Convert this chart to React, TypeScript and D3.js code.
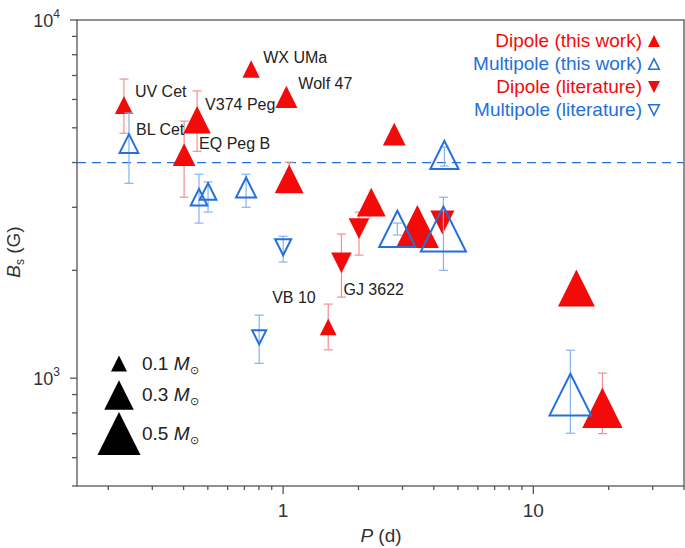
// B_s versus rotation period, log-log scatter
import React from 'react';
import * as d3 from 'd3';

interface Star {
  p: number;      // rotation period (d)
  b: number;      // field strength (G)
  m: number;      // mass (solar masses)
  lo?: number;    // lower end of the error bar
  hi?: number;    // upper end of the error bar
  name?: string;
}

// red filled, pointing up
const dipoleThisWork: Star[] = [
  { p: 0.231, b: 5790, m: 0.13, lo: 4830, hi: 6840, name: 'UV Cet' },
  { p: 0.453, b: 5270, m: 0.27, lo: 4300, hi: 6340, name: 'V374 Peg' },
  { p: 0.402, b: 4210, m: 0.2, lo: 3200, hi: 5220, name: 'EQ Peg B' },
  { p: 0.745, b: 7300, m: 0.12, name: 'WX UMa' },
  { p: 1.03, b: 6100, m: 0.19, name: 'Wolf 47' },
  { p: 1.057, b: 3600, m: 0.29, lo: 3300, hi: 4010 },
  { p: 2.78, b: 4800, m: 0.2 },
  { p: 2.25, b: 3100, m: 0.29 },
  { p: 3.44, b: 2650, m: 0.5 },
  { p: 1.514, b: 1390, m: 0.11, lo: 1200, hi: 1610 },
  { p: 14.86, b: 1785, m: 0.41 },
  { p: 18.88, b: 827, m: 0.46, lo: 700, hi: 1033 },
];

// blue open, pointing up
const multipoleThisWork: Star[] = [
  { p: 0.242, b: 4520, m: 0.17, lo: 3500, hi: 5500, name: 'BL Cet' },
  { p: 0.461, b: 3200, m: 0.14, lo: 2710, hi: 3710 },
  { p: 0.501, b: 3320, m: 0.14, lo: 2910, hi: 3530 },
  { p: 0.711, b: 3405, m: 0.19, lo: 3000, hi: 3710 },
  { p: 4.41, b: 4200, m: 0.31, lo: 3910, hi: 4420 },
  { p: 2.86, b: 2610, m: 0.43, lo: 2510, hi: 2710 },
  { p: 4.37, b: 2610, m: 0.56, lo: 2000, hi: 3200 },
  { p: 14.06, b: 900, m: 0.51, lo: 702, hi: 1197 },
];

// red filled, pointing down
const dipoleLiterature: Star[] = [
  { p: 2.01, b: 2616, m: 0.17, lo: 2206, hi: 2909 },
  { p: 1.71, b: 2100, m: 0.17, lo: 1684, hi: 2525, name: 'GJ 3622' },
  { p: 4.33, b: 2720, m: 0.22 },
];

// blue open, pointing down
const multipoleLiterature: Star[] = [
  { p: 1.0, b: 2320, m: 0.13, lo: 2110, hi: 2490 },
  { p: 0.802, b: 1300, m: 0.1, lo: 1100, hi: 1500, name: 'VB 10' },
];

const legendLabels = ['Dipole (this work)', 'Multipole (this work)', 'Dipole (literature)', 'Multipole (literature)'];
const massLegend = [0.1, 0.3, 0.5];
const xTickLabels = [1, 10];
const yTickExponents = [3, 4];
const threshold = 4000;

// label offsets from the star's marker, in px
const labelOffsets: Record<string, [number, number]> = {
  'UV Cet': [11, -8],
  'BL Cet': [7, -9],
  'V374 Peg': [8, -10],
  'EQ Peg B': [15, -6],
  'WX UMa': [12, -6],
  'Wolf 47': [12, -8],
  'GJ 3622': [2, 32],
  'VB 10': [13, -34],
};

const width = 685;
const height = 548;
const plotLeft = 77;
const plotRight = 684;
const plotTop = 20;
const plotBottom = 486;

const RED = '#f50a0a';
const RED_ERR = '#f29090';
const BLUE = '#2370dc';
const BLUE_ERR = '#86b2ee';
const AXIS = '#555';
const FONT = '"Liberation Sans", Arial, sans-serif';

const x = d3.scaleLog().domain([0.15, 40]).range([plotLeft, plotRight]);
const y = d3.scaleLog().domain([500, 10000]).range([plotBottom, plotTop]);
const size = d3.scaleLinear().domain([0.1, 0.5]).range([16, 43]);

function triangle(cx: number, cy: number, w: number, up: boolean) {
  const h = w;
  const p = d3.path();
  if (up) {
    p.moveTo(cx, cy - h / 2);
    p.lineTo(cx + w / 2, cy + h / 2);
    p.lineTo(cx - w / 2, cy + h / 2);
  } else {
    p.moveTo(cx, cy + h / 2);
    p.lineTo(cx + w / 2, cy - h / 2);
    p.lineTo(cx - w / 2, cy - h / 2);
  }
  p.closePath();
  return p.toString();
}

const ErrorBars = ({ data, color }: { data: Star[]; color: string }) => (
  <g stroke={color} strokeWidth={1.2}>
    {data.filter(d => d.lo && d.hi).map((d, i) => {
      const cx = x(d.p);
      return (
        <g key={i}>
          <line x1={cx} x2={cx} y1={y(d.hi!)} y2={y(d.lo!)} />
          <line x1={cx - 4.5} x2={cx + 4.5} y1={y(d.hi!)} y2={y(d.hi!)} />
          <line x1={cx - 4.5} x2={cx + 4.5} y1={y(d.lo!)} y2={y(d.lo!)} />
        </g>
      );
    })}
  </g>
);

const Markers = ({ data, filled, up }: { data: Star[]; filled: boolean; up: boolean }) => (
  <g>
    {data.map((d, i) => (
      <path
        key={i}
        d={triangle(x(d.p), y(d.b), filled ? size(d.m) : size(d.m) - 2, up)}
        fill={filled ? RED : 'none'}
        stroke={filled ? 'none' : BLUE}
        strokeWidth={2}
      />
    ))}
  </g>
);

const App: React.FC = () => {
  const allStars = [...dipoleThisWork, ...multipoleThisWork, ...dipoleLiterature, ...multipoleLiterature];
  const named = allStars.filter(d => d.name);
  const legendStyle = [
    { color: RED, filled: true, up: true },
    { color: BLUE, filled: false, up: true },
    { color: RED, filled: true, up: false },
    { color: BLUE, filled: false, up: false },
  ];

  return (
    <svg width={width} height={height} style={{ position: 'absolute', left: 0, top: 0, background: '#fff' }} fontFamily={FONT}>
      {/* frame */}
      <rect x={plotLeft} y={plotTop} width={plotRight - plotLeft} height={plotBottom - plotTop} fill="none" stroke={AXIS} strokeWidth={1.3} />

      {/* ticks */}
      <g stroke={AXIS} strokeWidth={1.3}>
        {x.ticks().map((t, i) => {
          const major = xTickLabels.includes(t);
          return <line key={i} x1={x(t)} x2={x(t)} y1={plotBottom} y2={plotBottom + (major ? 8 : 4)} />;
        })}
        {y.ticks().map((t, i) => {
          const major = t === 1000 || t === 10000;
          return <line key={i} x1={plotLeft - (major ? 7 : 5)} x2={plotLeft} y1={y(t)} y2={y(t)} />;
        })}
      </g>
      <g fontSize={19} fill="#333" textAnchor="middle">
        {xTickLabels.map(t => (
          <text key={t} x={x(t)} y={517}>{t}</text>
        ))}
      </g>
      <g fontSize={18} fill="#333" textAnchor="end">
        {yTickExponents.map(e => (
          <text key={e} x={plotLeft - 17} y={y(Math.pow(10, e)) + 7}>
            10<tspan fontSize={12} dy={-9}>{e}</tspan>
          </text>
        ))}
      </g>

      {/* axis titles */}
      <text x={381} y={542} fontSize={19} fill="#333" textAnchor="middle">
        <tspan fontStyle="italic">P</tspan> (d)
      </text>
      <text transform="translate(20,252) rotate(-90)" fontSize={19} fill="#333" textAnchor="middle">
        <tspan fontStyle="italic">B</tspan><tspan fontSize={12} dy={4}>s</tspan><tspan dy={-4}> (G)</tspan>
      </text>

      {/* 4 kG level */}
      <line x1={plotLeft} x2={plotRight} y1={y(threshold)} y2={y(threshold)} stroke={BLUE} strokeWidth={1.3} strokeDasharray="9 6" />

      <ErrorBars data={[...dipoleThisWork, ...dipoleLiterature]} color={RED_ERR} />
      <Markers data={dipoleThisWork} filled up />
      <Markers data={dipoleLiterature} filled up={false} />
      <ErrorBars data={[...multipoleThisWork, ...multipoleLiterature]} color={BLUE_ERR} />
      <Markers data={multipoleThisWork} filled={false} up />
      <Markers data={multipoleLiterature} filled={false} up={false} />

      {/* star names */}
      <g fontSize={16} fill="#222">
        {named.map(d => {
          const [dx, dy] = labelOffsets[d.name!] || [10, -8];
          return <text key={d.name} x={x(d.p) + dx} y={y(d.b) + dy}>{d.name}</text>;
        })}
      </g>

      {/* symbol legend */}
      <g fontSize={19} textAnchor="end">
        {legendLabels.map((l, i) => {
          const s = legendStyle[i];
          const cy = 41 + i * 23;
          return (
            <g key={l}>
              <text x={642} y={cy + 6} fill={s.color}>{l}</text>
              <path
                d={triangle(654, cy, s.filled ? 12 : 10.5, s.up)}
                fill={s.filled ? RED : 'none'}
                stroke={s.filled ? 'none' : BLUE}
                strokeWidth={1.6}
              />
            </g>
          );
        })}
      </g>

      {/* mass legend */}
      <g fontSize={19} fill="#222">
        {massLegend.map((m, i) => {
          const cy = [363.5, 395, 433.5][i];
          return (
            <g key={m}>
              <path d={triangle(119, cy, size(m), true)} fill="#000" />
              <text x={142} y={cy + 6}>
                {m.toFixed(1)} <tspan fontStyle="italic">M</tspan><tspan fontSize={11} dy={4}>⊙</tspan>
              </text>
            </g>
          );
        })}
      </g>
    </svg>
  );
};

export default App;
